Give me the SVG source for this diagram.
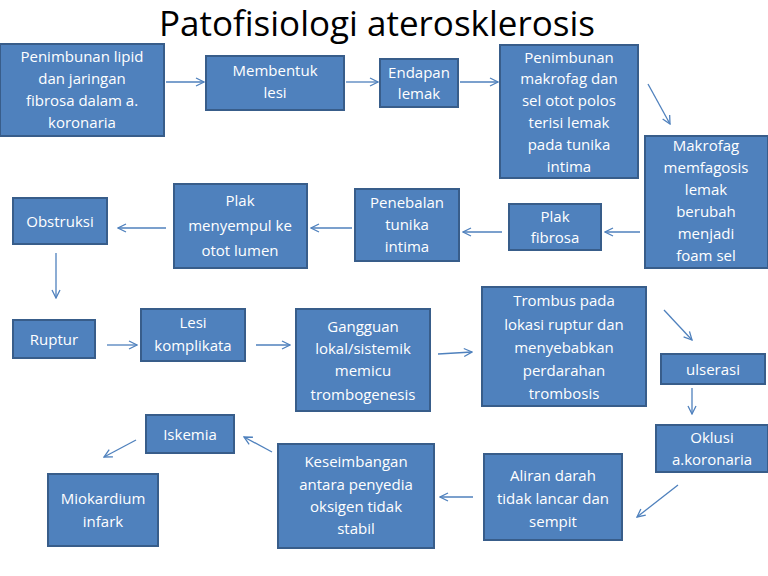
<svg xmlns="http://www.w3.org/2000/svg" width="768" height="576" viewBox="0 0 768 576">
<style>
.n rect{fill:#4F81BD;stroke:#385D8A;stroke-width:2}
.n text{fill:#fff;font-family:"Open Sans","Liberation Sans",sans-serif;font-size:15px;text-anchor:middle}
.c line{stroke:#4F81BD;stroke-width:1.3;marker-end:url(#a)}
</style>
<defs><marker id="a" markerWidth="10" markerHeight="10" refX="9" refY="5" orient="auto" markerUnits="userSpaceOnUse"><path d="M1,1 L9,5 L1,9" fill="none" stroke="#4F81BD" stroke-width="1.3"/></marker></defs>
<rect width="768" height="576" fill="#fff"/>
<text x="377" y="36" font-family="Open Sans,Liberation Sans,sans-serif" font-size="35" text-anchor="middle" fill="#000">Patofisiologi aterosklerosis</text>
<g id="n1" class="n"><rect x="0" y="44" width="164" height="92"/><text x="82" y="62">Penimbunan lipid</text><text x="82" y="84">dan jaringan</text><text x="82" y="106">fibrosa dalam a.</text><text x="82" y="128">koronaria</text></g>
<g id="n2" class="n"><rect x="206" y="56" width="138" height="54"/><text x="275" y="76">Membentuk</text><text x="275" y="98">lesi</text></g>
<g id="n3" class="n"><rect x="380" y="59" width="78" height="48"/><text x="419" y="78">Endapan</text><text x="419" y="99">lemak</text></g>
<g id="n4" class="n"><rect x="500" y="45" width="138" height="133"/><text x="569" y="63">Penimbunan</text><text x="569" y="84">makrofag dan</text><text x="569" y="106">sel otot polos</text><text x="569" y="128">terisi lemak</text><text x="569" y="150">pada tunika</text><text x="569" y="172">intima</text></g>
<g id="n5" class="n"><rect x="645" y="136" width="123" height="132"/><text x="706" y="151">Makrofag</text><text x="706" y="173">memfagosis</text><text x="706" y="195">lemak</text><text x="706" y="217">berubah</text><text x="706" y="239">menjadi</text><text x="706" y="261">foam sel</text></g>
<g id="n6" class="n"><rect x="509" y="204" width="92" height="46"/><text x="555" y="222">Plak</text><text x="555" y="243">fibrosa</text></g>
<g id="n7" class="n"><rect x="355" y="189" width="104" height="72"/><text x="407" y="208">Penebalan</text><text x="407" y="230">tunika</text><text x="407" y="252">intima</text></g>
<g id="n8" class="n"><rect x="174" y="184" width="133" height="84"/><text x="240" y="206">Plak</text><text x="240" y="231">menyempul ke</text><text x="240" y="256">otot lumen</text></g>
<g id="n9" class="n"><rect x="13" y="198" width="94" height="46"/><text x="60" y="227">Obstruksi</text></g>
<g id="n10" class="n"><rect x="13" y="320" width="82" height="38"/><text x="54" y="345">Ruptur</text></g>
<g id="n11" class="n"><rect x="141" y="309" width="104" height="52"/><text x="193" y="328">Lesi</text><text x="193" y="351">komplikata</text></g>
<g id="n12" class="n"><rect x="296" y="309" width="134" height="102"/><text x="363" y="332">Gangguan</text><text x="363" y="354">lokal/sistemik</text><text x="363" y="376">memicu</text><text x="363" y="400">trombogenesis</text></g>
<g id="n13" class="n"><rect x="482" y="287" width="164" height="119"/><text x="564" y="306">Trombus pada</text><text x="564" y="330">lokasi ruptur dan</text><text x="564" y="353">menyebabkan</text><text x="564" y="376">perdarahan</text><text x="564" y="399">trombosis</text></g>
<g id="n14" class="n"><rect x="661" y="354" width="104" height="30"/><text x="713" y="375">ulserasi</text></g>
<g id="n15" class="n"><rect x="656" y="425" width="112" height="47"/><text x="712" y="443">Oklusi</text><text x="712" y="465">a.koronaria</text></g>
<g id="n16" class="n"><rect x="484" y="454" width="138" height="86"/><text x="553" y="481">Aliran darah</text><text x="553" y="504">tidak lancar dan</text><text x="553" y="527">sempit</text></g>
<g id="n17" class="n"><rect x="278" y="444" width="156" height="104"/><text x="356" y="467">Keseimbangan</text><text x="356" y="490">antara penyedia</text><text x="356" y="512">oksigen tidak</text><text x="356" y="534">stabil</text></g>
<g id="n18" class="n"><rect x="146" y="415" width="88" height="38"/><text x="190" y="440">Iskemia</text></g>
<g id="n19" class="n"><rect x="48" y="474" width="110" height="72"/><text x="103" y="504">Miokardium</text><text x="103" y="527">infark</text></g>
<g class="c">
<line x1="166" y1="82" x2="204" y2="82"/><line x1="346" y1="82" x2="378" y2="82"/><line x1="460" y1="82" x2="498" y2="82"/>
<line x1="648" y1="84" x2="670" y2="124"/><line x1="640" y1="232" x2="605" y2="232"/><line x1="502" y1="232" x2="463" y2="232"/>
<line x1="352" y1="228" x2="311" y2="228"/><line x1="166" y1="228" x2="118" y2="228"/><line x1="56" y1="253" x2="56" y2="298"/>
<line x1="107" y1="345" x2="137" y2="345"/><line x1="256" y1="345" x2="290" y2="345"/><line x1="438" y1="354" x2="472" y2="352"/>
<line x1="664" y1="310" x2="692" y2="340"/><line x1="692" y1="388" x2="692" y2="414"/><line x1="678" y1="485" x2="637" y2="517"/>
<line x1="473" y1="497" x2="440" y2="497"/><line x1="272" y1="452" x2="244" y2="437"/><line x1="136" y1="440" x2="104" y2="457"/>
</g>
</svg>
